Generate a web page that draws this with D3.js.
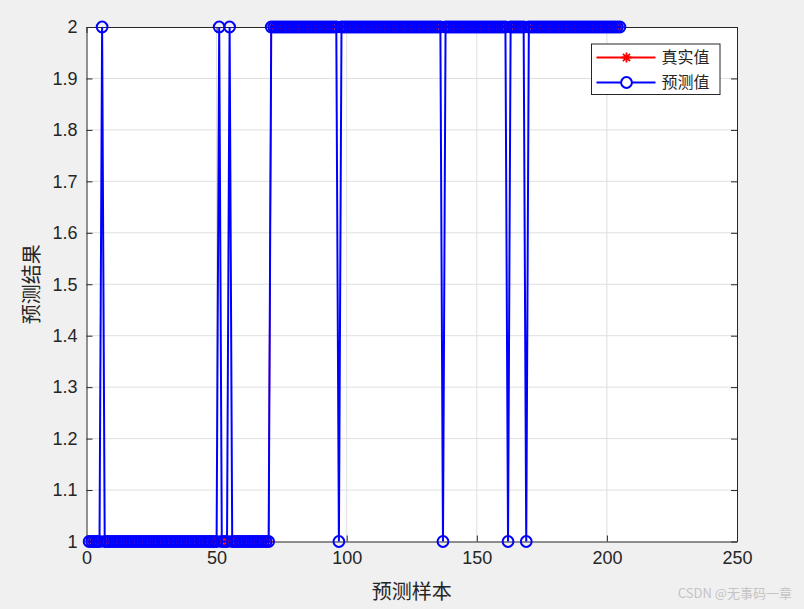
<!DOCTYPE html>
<html>
<head>
<meta charset="utf-8">
<script src="https://cdn.jsdelivr.net/npm/d3@7"></script>
<style>
	html, body { margin: 0; padding: 0; background: #f0f0f0; }
	svg { display: block; }
	.tick-label { font-family: 'Liberation Sans', Arial, sans-serif; font-size: 18px; fill: #262626; }
	.cjk { font-family: 'Noto Sans CJK SC', sans-serif; fill: #262626; }
</style>
</head>
<body>
<div id="chart"></div>
<script>

// DATA //

// true class of each test sample (1..205)
const trueValues = [
	1, 1, 1, 1, 1, 1, 1, 1, 1, 1, 1, 1, 1, 1, 1, 1, 1, 1, 1, 1,
	1, 1, 1, 1, 1, 1, 1, 1, 1, 1, 1, 1, 1, 1, 1, 1, 1, 1, 1, 1,
	1, 1, 1, 1, 1, 1, 1, 1, 1, 1, 1, 1, 1, 1, 1, 1, 1, 1, 1, 1,
	1, 1, 1, 1, 1, 1, 1, 1, 1, 1, 2, 2, 2, 2, 2, 2, 2, 2, 2, 2,
	2, 2, 2, 2, 2, 2, 2, 2, 2, 2, 2, 2, 2, 2, 2, 2, 2, 2, 2, 2,
	2, 2, 2, 2, 2, 2, 2, 2, 2, 2, 2, 2, 2, 2, 2, 2, 2, 2, 2, 2,
	2, 2, 2, 2, 2, 2, 2, 2, 2, 2, 2, 2, 2, 2, 2, 2, 2, 2, 2, 2,
	2, 2, 2, 2, 2, 2, 2, 2, 2, 2, 2, 2, 2, 2, 2, 2, 2, 2, 2, 2,
	2, 2, 2, 2, 2, 2, 2, 2, 2, 2, 2, 2, 2, 2, 2, 2, 2, 2, 2, 2,
	2, 2, 2, 2, 2, 2, 2, 2, 2, 2, 2, 2, 2, 2, 2, 2, 2, 2, 2, 2,
	2, 2, 2, 2, 2
];

// predicted class of each test sample
const predValues = [
	1, 1, 1, 1, 1, 2, 1, 1, 1, 1, 1, 1, 1, 1, 1, 1, 1, 1, 1, 1,
	1, 1, 1, 1, 1, 1, 1, 1, 1, 1, 1, 1, 1, 1, 1, 1, 1, 1, 1, 1,
	1, 1, 1, 1, 1, 1, 1, 1, 1, 1, 2, 1, 1, 1, 2, 1, 1, 1, 1, 1,
	1, 1, 1, 1, 1, 1, 1, 1, 1, 1, 2, 2, 2, 2, 2, 2, 2, 2, 2, 2,
	2, 2, 2, 2, 2, 2, 2, 2, 2, 2, 2, 2, 2, 2, 2, 2, 1, 2, 2, 2,
	2, 2, 2, 2, 2, 2, 2, 2, 2, 2, 2, 2, 2, 2, 2, 2, 2, 2, 2, 2,
	2, 2, 2, 2, 2, 2, 2, 2, 2, 2, 2, 2, 2, 2, 2, 2, 1, 2, 2, 2,
	2, 2, 2, 2, 2, 2, 2, 2, 2, 2, 2, 2, 2, 2, 2, 2, 2, 2, 2, 2,
	2, 1, 2, 2, 2, 2, 2, 2, 1, 2, 2, 2, 2, 2, 2, 2, 2, 2, 2, 2,
	2, 2, 2, 2, 2, 2, 2, 2, 2, 2, 2, 2, 2, 2, 2, 2, 2, 2, 2, 2,
	2, 2, 2, 2, 2
];

const xTicks = [ 0, 50, 100, 150, 200, 250 ];
const yTicks = [ 1, 1.1, 1.2, 1.3, 1.4, 1.5, 1.6, 1.7, 1.8, 1.9, 2 ];
const seriesNames = [ '真实值', '预测值' ];
const xLabel = '预测样本';
const yLabel = '预测结果';


// VARIABLES //

const width = 804;
const height = 609;
const plot = { left: 86.5, right: 737, top: 27, bottom: 541.5 };
const axisColor = '#262626';
const gridColor = '#dfdfdf';


// FUNCTIONS //

// Asterisk marker path (MATLAB '*'), centred at the origin.
function starPath( r ) {
	const d = r * Math.SQRT1_2;
	return 'M' + ( -r ) + ',0L' + r + ',0' +
		'M0,' + ( -r ) + 'L0,' + r +
		'M' + ( -d ) + ',' + ( -d ) + 'L' + d + ',' + d +
		'M' + ( -d ) + ',' + d + 'L' + d + ',' + ( -d );
}


// MAIN //

const svg = d3.select( '#chart' ).append( 'svg' )
	.attr( 'width', width )
	.attr( 'height', height );

svg.append( 'rect' )
	.attr( 'width', width )
	.attr( 'height', height )
	.attr( 'fill', '#f0f0f0' );

const x = d3.scaleLinear()
	.domain([ 0, 250 ])
	.range([ plot.left, plot.right ]);

const y = d3.scaleLinear()
	.domain([ 1, 2 ])
	.range([ plot.bottom, plot.top ]);

// Axes background.
svg.append( 'rect' )
	.attr( 'x', plot.left )
	.attr( 'y', plot.top )
	.attr( 'width', plot.right - plot.left )
	.attr( 'height', plot.bottom - plot.top )
	.attr( 'fill', '#fff' );

// Grid lines.
const grid = svg.append( 'g' ).attr( 'class', 'grid' );
grid.selectAll( 'line.gx' )
	.data( xTicks.slice( 1, -1 ) )
	.enter().append( 'line' )
	.attr( 'x1', d => x( d ) )
	.attr( 'x2', d => x( d ) )
	.attr( 'y1', plot.top )
	.attr( 'y2', plot.bottom )
	.attr( 'stroke', gridColor )
	.attr( 'stroke-width', 1 );
grid.selectAll( 'line.gy' )
	.data( yTicks.slice( 1, -1 ) )
	.enter().append( 'line' )
	.attr( 'x1', plot.left )
	.attr( 'x2', plot.right )
	.attr( 'y1', d => y( d ) )
	.attr( 'y2', d => y( d ) )
	.attr( 'stroke', gridColor )
	.attr( 'stroke-width', 1 );

// Axes: inward ticks on all four sides (box on).
const tickLen = 6;
const axisBottom = d3.axisBottom( x ).tickValues( xTicks ).tickSizeInner( -tickLen ).tickSizeOuter( 0 ).tickPadding( 10 );
const axisTop = d3.axisTop( x ).tickValues( xTicks ).tickSizeInner( -tickLen ).tickSizeOuter( 0 ).tickFormat( '' );
const axisLeft = d3.axisLeft( y ).tickValues( yTicks ).tickSizeInner( -tickLen ).tickSizeOuter( 0 ).tickPadding( 9 ).tickFormat( d3.format( '~g' ) );
const axisRight = d3.axisRight( y ).tickValues( yTicks ).tickSizeInner( -tickLen ).tickSizeOuter( 0 ).tickFormat( '' );

function styleAxis( g ) {
	g.select( '.domain' ).attr( 'stroke', axisColor ).attr( 'stroke-width', 1 );
	g.selectAll( '.tick line' ).attr( 'stroke', axisColor );
	g.selectAll( '.tick text' )
		.attr( 'class', 'tick-label' )
		.attr( 'fill', axisColor );
	g.attr( 'font-family', null ).attr( 'font-size', null );
}

svg.append( 'g' ).attr( 'transform', 'translate(0,' + plot.bottom + ')' ).call( axisBottom ).call( styleAxis );
svg.append( 'g' ).attr( 'transform', 'translate(0,' + plot.top + ')' ).call( axisTop ).call( styleAxis );
svg.append( 'g' ).attr( 'transform', 'translate(' + plot.left + ',0)' ).call( axisLeft ).call( styleAxis );
svg.append( 'g' ).attr( 'transform', 'translate(' + plot.right + ',0)' ).call( axisRight ).call( styleAxis );

// Series.
const line = d3.line()
	.x( ( d, i ) => x( i + 1 ) )
	.y( d => y( d ) );

const series = svg.append( 'g' ).attr( 'class', 'series' );

series.append( 'path' )
	.datum( trueValues )
	.attr( 'd', line )
	.attr( 'fill', 'none' )
	.attr( 'stroke', '#ff0000' )
	.attr( 'stroke-width', 1.5 );

series.selectAll( 'path.star' )
	.data( trueValues )
	.enter().append( 'path' )
	.attr( 'class', 'star' )
	.attr( 'd', starPath( 4.5 ) )
	.attr( 'transform', ( d, i ) => 'translate(' + x( i + 1 ) + ',' + y( d ) + ')' )
	.attr( 'fill', 'none' )
	.attr( 'stroke', '#ff0000' )
	.attr( 'stroke-width', 1 );

series.append( 'path' )
	.datum( predValues )
	.attr( 'd', line )
	.attr( 'fill', 'none' )
	.attr( 'stroke', '#0000ff' )
	.attr( 'stroke-width', 2 );

series.selectAll( 'circle' )
	.data( predValues )
	.enter().append( 'circle' )
	.attr( 'cx', ( d, i ) => x( i + 1 ) )
	.attr( 'cy', d => y( d ) )
	.attr( 'r', 5.4 )
	.attr( 'fill', 'none' )
	.attr( 'stroke', '#0000ff' )
	.attr( 'stroke-width', 2 );

// Axis labels.
svg.append( 'text' )
	.attr( 'class', 'cjk' )
	.attr( 'x', ( plot.left + plot.right ) / 2 )
	.attr( 'y', 599 )
	.attr( 'text-anchor', 'middle' )
	.attr( 'font-size', 20 )
	.text( xLabel );

svg.append( 'text' )
	.attr( 'class', 'cjk' )
	.attr( 'transform', 'translate(39,' + ( plot.top + plot.bottom ) / 2 + ') rotate(-90)' )
	.attr( 'text-anchor', 'middle' )
	.attr( 'font-size', 20 )
	.text( yLabel );

// Legend.
const legend = svg.append( 'g' ).attr( 'transform', 'translate(591.5,44)' );
legend.append( 'rect' )
	.attr( 'width', 128.5 )
	.attr( 'height', 50.5 )
	.attr( 'fill', '#fff' )
	.attr( 'stroke', axisColor )
	.attr( 'stroke-width', 1 );

const colors = [ '#ff0000', '#0000ff' ];
const rows = legend.selectAll( 'g.row' )
	.data( seriesNames )
	.enter().append( 'g' )
	.attr( 'class', 'row' )
	.attr( 'transform', ( d, i ) => 'translate(0,' + ( 13.5 + i * 25 ) + ')' );

rows.append( 'line' )
	.attr( 'x1', 5 )
	.attr( 'x2', 64 )
	.attr( 'stroke', ( d, i ) => colors[ i ] )
	.attr( 'stroke-width', 2 );

rows.filter( ( d, i ) => i === 0 ).append( 'path' )
	.attr( 'd', starPath( 5 ) )
	.attr( 'transform', 'translate(35,0)' )
	.attr( 'fill', 'none' )
	.attr( 'stroke', colors[ 0 ] )
	.attr( 'stroke-width', 1.8 );

rows.filter( ( d, i ) => i === 1 ).append( 'circle' )
	.attr( 'cx', 35 )
	.attr( 'r', 5.4 )
	.attr( 'fill', '#fff' )
	.attr( 'stroke', colors[ 1 ] )
	.attr( 'stroke-width', 2 );

rows.append( 'text' )
	.attr( 'class', 'cjk' )
	.attr( 'x', 70 )
	.attr( 'dy', '0.36em' )
	.attr( 'font-size', 16 )
	.text( d => d );

// Watermark.
svg.append( 'text' )
	.attr( 'x', 792 )
	.attr( 'y', 598 )
	.attr( 'text-anchor', 'end' )
	.attr( 'font-family', "'Noto Sans CJK SC', sans-serif" )
	.attr( 'font-size', 13 )
	.attr( 'fill', '#c4c4c4' )
	.text( 'CSDN @无事码一章' );

</script>
</body>
</html>
